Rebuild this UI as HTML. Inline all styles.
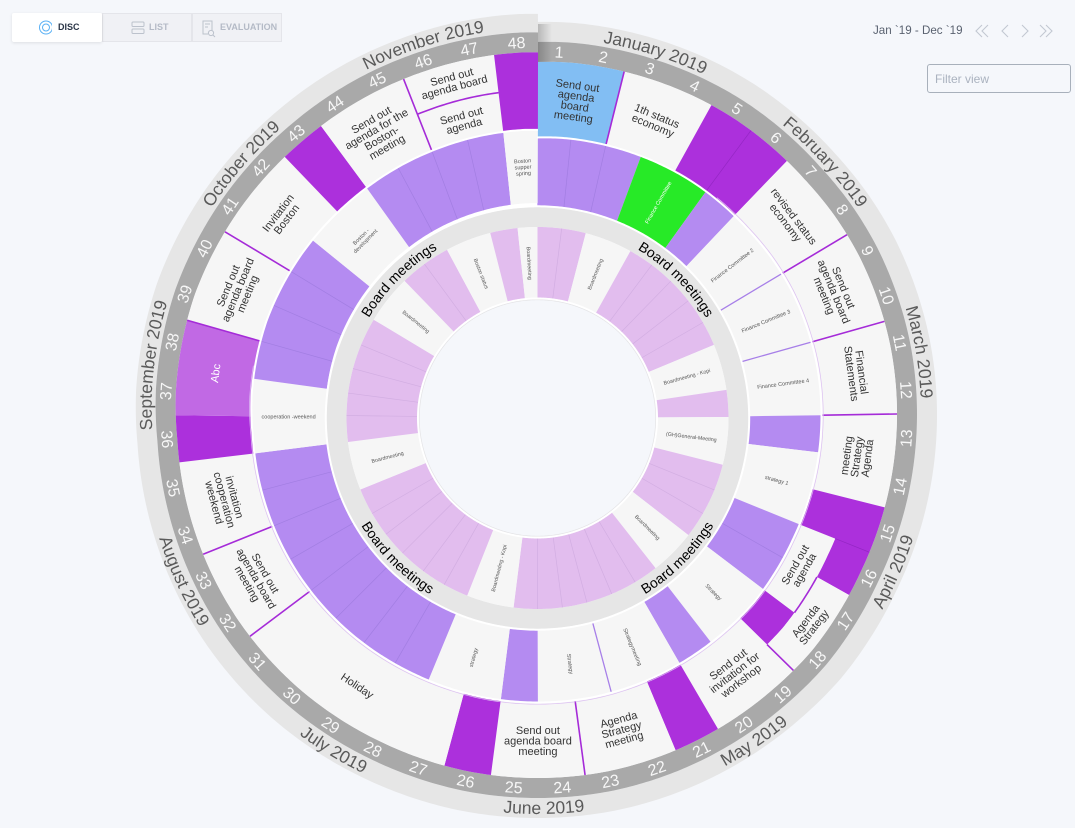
<!DOCTYPE html>
<html lang="en">
<head>
<meta charset="utf-8">
<title>Annual wheel disc</title>
<style>
html,body{margin:0;padding:0;background:#f5f7fb;width:1075px;height:828px;overflow:hidden;font-family:"Liberation Sans",sans-serif}
#disc{position:absolute;left:0;top:0}
svg text{font-family:"Liberation Sans",sans-serif}
.tab{position:absolute;top:13px;height:29px;width:90px;box-sizing:border-box;background:#f0f1f5;border:1px solid #e4e5ea;font-size:9px;font-weight:bold;color:#b4bac6;line-height:27px;white-space:nowrap}
.tab span{position:absolute;top:0}
.tab svg{position:absolute;top:0;left:0}
#tab-disc{left:12px;background:#fff;border:none;color:#2a3547;line-height:29px;border-radius:2px;box-shadow:0 1px 3px rgba(0,0,0,.1);z-index:2}
#range{position:absolute;left:873px;top:24px;font-size:11.6px;color:#5a6270;white-space:nowrap}
#filter{position:absolute;left:927px;top:64px;width:144px;height:29px;box-sizing:border-box;border:1px solid #a8b0bb;border-radius:3px;background:transparent;padding:0 7px;font:12px "Liberation Sans",sans-serif;color:#444;outline:none}
#filter::placeholder{color:#aab2bf;opacity:1}
#nav{position:absolute;left:970px;top:20px}
</style>
</head>
<body>
<svg id="disc" width="1075" height="828" viewBox="0 0 1075 828" xmlns="http://www.w3.org/2000/svg">
  <defs id="defs">
    <linearGradient id="seam" x1="0" x2="1" y1="0" y2="0">
      <stop offset="0" stop-color="#000" stop-opacity=".2"/>
      <stop offset="1" stop-color="#000" stop-opacity="0"/>
    </linearGradient>
  </defs>
</svg>

<div class="tab" id="tab-disc">
  <svg width="40" height="29"><circle cx="34" cy="14.5" r="6.5" fill="none" stroke="#5ab1f5" stroke-width="1"/><circle cx="34" cy="14.5" r="3.5" fill="none" stroke="#5ab1f5" stroke-width="1"/></svg>
  <span style="left:46px">DISC</span>
</div>
<div class="tab" style="left:102px">
  <svg width="44" height="27"><rect x="29" y="8" width="12" height="4.5" rx="1" fill="none" stroke="#bcc2cc"/><rect x="29" y="15" width="12" height="4.5" rx="1" fill="none" stroke="#bcc2cc"/></svg>
  <span style="left:46px">LIST</span>
</div>
<div class="tab" style="left:192px;width:90px">
  <svg width="26" height="27"><path d="M19 17V7H10V20H15" fill="none" stroke="#bcc2cc"/><path d="M12 10H17M12 13H15" stroke="#bcc2cc"/><circle cx="18" cy="19" r="2.6" fill="none" stroke="#bcc2cc"/><path d="M20 21L22 23" stroke="#bcc2cc"/></svg>
  <span style="left:27px">EVALUATION</span>
</div>

<div id="range">Jan `19 - Dec `19</div>
<svg id="nav" width="90" height="22">
  <g fill="none" stroke="#c3c8d2" stroke-width="1.1">
    <path d="M12 5L6 11L12 17M18 5L12 11L18 17"/>
    <path d="M38 5L32 11L38 17"/>
    <path d="M52 5L58 11L52 17"/>
    <path d="M70 5L76 11L70 17M76 5L82 11L76 17"/>
  </g>
</svg>
<input id="filter" placeholder="Filter view">

<script>
// ---------- chart data (positions in calendar weeks, 48 per year) ----------
const monthNames = ['January 2019','February 2019','March 2019','April 2019','May 2019','June 2019','July 2019','August 2019','September 2019','October 2019','November 2019'];
const monthCentreWeeks = [2.4,6.53,10.77,15.16,19.51,23.87,28.19,32.67,36.96,41.33,45.61];
const weekLabels = ['1','2','3','4','5','6','7','8','9','10','11','12','13','14','15','16','17','18','19','20','21','22','23','24','25','26','27','28','29','30','31','32','33','34','35','36','37','38','39','40','41','42','43','44','45','46','47','48'];

const outerStart = [0,2,4,6,8,10,12,14,17,15,16,18,20,21,23,25,26,31,33,35,36,38,40,42,43,45,45,47];
const outerEnd   = [2,4,6,8,10,12,14,16,18,17,18,20,21,23,25,26,31,33,35,36,38,40,42,43,45,47,47,48];
const outerKind  = ['highlight','task','deadline','task','task','task','task','deadline','deadline','task','task','task','deadline','task','task','deadline','task','task','task','deadline','soft','task','task','deadline','task','task','task','deadline'];
const outerLane  = ['full','full','full','full','full','full','full','full','inner','inner','outer','full','full','full','full','full','full','full','full','full','full','full','full','full','full','inner','outer','full'];
const outerLabels = ['Send out|agenda|board|meeting','1th status|economy','','revised status|economy','Send out|agenda board|meeting','Financial|Statements','meeting|Strategy|Agenda','','','Send out|agenda','Agenda|Strategy','Send out|invitation for|workshop','','Agenda|Strategy|meeting','Send out|agenda board|meeting','','Holiday','Send out|agenda board|meeting','invitation|cooperation|weekend','','Abc','Send out|agenda board|meeting','Invitation|Boston','','Send out|agenda for the|Boston-|meeting','Send out|agenda','Send out|agenda board',''];
const outerLineWeeks = [2,8,10,12,23,31,33,38,40,45];
const outerDividerWeeks = [5];
const outerArcStart = [16,45];
const outerArcEnd = [17,47];

const middleStart = [0,3,5,6,8,10,12,13,15,17,19,20,22,24,25,27,35,37,41,43,47];
const middleEnd   = [3,5,6,8,10,12,13,15,17,19,20,22,24,25,27,35,37,41,43,47,48];
const middleKind  = ['session','active','session','task','task','task','session','task','session','task','session','task','task','session','task','session','task','session','task','session','task'];
const middleLabels = ['','Finance Committee','','Finance Committee 2','Finance Committee 3','Finance Committee 4','','strategy 1','','Strategy','','Strategymeeting','Strategy','','strategy','','cooperation -weekend','','Boston -|development','','Boston|supper|spring'];
const middleOrient = ['r','r','r','r','r','r','r','r','r','r','r','r','r','r','r','r','r','r','t','r','t'];
const middleDividers = [1,2,16,28,29,30,31,32,33,34,38,39,40,44,45,46];
const middleLineWeeks = [8,10,22];

const innerStart = [0,1.95,3.88,9,10.87,11.96,13.89,17.04,18.91,24.96,26.88,33.07,35.04,40.13,42.12,44.23,46.09,47.2];
const innerEnd   = [1.95,3.88,9,10.87,11.96,13.89,17.04,18.91,24.96,26.88,33.07,35.04,40.13,42.12,44.23,46.09,47.2,48];
const innerKind  = ['meeting','task','meeting','task','meeting','task','meeting','task','meeting','task','meeting','task','meeting','task','meeting','task','meeting','task'];
const innerLabels = ['','Boardmeeting','','Boardmeeting - Kopi','','(GH)General-Meeting','','Boardmeeting','','Boardmeeting - Kopi','','Boardmeeting','','Boardmeeting','','Boston status','','Boardmeeting'];
const innerDividers = [0.97,4.9,5.9,6.95,8,14.95,16,19.9,20.95,22,23,24,27.9,28.9,30,31,32,36.1,37,38,39,43.16];

const bandTitles = ['Board meetings','Board meetings','Board meetings','Board meetings'];
const bandCentreWeeks = [6,18,30,42];

// ---------- geometry ----------
const svg = document.getElementById('disc');
const NS = 'http://www.w3.org/2000/svg';
const CX = 537.5;
const R = {hole:120, innerOut:191, bandOut:211, midIn:212, midOut:283, lane:321, cellOut:358, weekOut:378, monthOut:398};
const kindFill = {task:'#f6f6f6', highlight:'#82bef3', deadline:'#ac30dc', soft:'#c169e4', session:'#b48bf1', active:'#27ea27', meeting:'#e2bdee'};

// The wheel in the source is not a perfect circle: this calibrates its drift around the rim.
const warpTable = [[0,-0.5,0],[5,-3,-1],[11,-6,-2],[19,-6,-3],[26,-5.5,-4],[34,-5,-5],[49,-4,-5.5],[56,-2,-5.5],[64,-1,-6],[79,0,-5.5],[90,0,-6],[109,0,-5.5],[116,0,-5],[124,1,-4],[131,2.5,-3.5],[139,2,-3],[146,1.5,-2],[154,1,-1],[169,1,0],[191,0,0],[206,-1.5,-1.5],[221,-2,-2],[236,-2,-3],[251,-1,-4],[266,0,-5],[274,-1.5,-4.5],[289,-2,-7],[304,0,-8.5],[319,2,-9],[334,2.5,-9.5],[341,4,-10],[357,3,-10],[360,0.5,-9.5]];
function warp(deg){
  for(let i=1;i<warpTable.length;i++){
    const a=warpTable[i-1], b=warpTable[i];
    if(deg<=b[0]){
      const f=(deg-a[0])/(b[0]-a[0]);
      return [a[1]+(b[1]-a[1])*f, a[2]+(b[2]-a[2])*f];
    }
  }
  return [0,0];
}
function warpScale(r){
  if(r<R.midIn) return 0;
  if(r<R.midOut) return 0.3+0.5*(r-R.midIn)/(R.midOut-R.midIn);
  if(r<R.cellOut) return 0.8+0.2*(r-R.midOut)/(R.cellOut-R.midOut);
  if(r<R.weekOut) return 1;
  return 1-0.15*(r-R.weekOut)/(R.monthOut-R.weekOut);
}
function rad(d){return d*Math.PI/180;}
function angle(week){return week*7.5;}
function P(deg, r){
  const t = Math.max(0, Math.min(1, (r-R.midIn)/(R.midOut-R.midIn)));
  const s = Math.sin(rad(deg));
  const grow = (deg<=180 ? 1.5 : 3)*s*s*t;
  const rr = r+grow;
  const cy = 418+2*t;
  const w = warp(deg), k = warpScale(r);
  return [CX+rr*s+w[0]*k, cy-rr*Math.cos(rad(deg))+w[1]*k];
}
function arcPoints(a, b, r){
  const n = Math.max(2, Math.ceil(Math.abs(b-a)/0.5));
  const pts = [];
  for(let i=0;i<=n;i++){
    const p = P(a+(b-a)*i/n, r);
    pts.push(p[0].toFixed(2)+' '+p[1].toFixed(2));
  }
  return pts;
}
function wedgePath(a, b, r0, r1){
  const out = arcPoints(a,b,r1);
  const inn = arcPoints(b,a,r0);
  return 'M'+out.join('L')+'L'+inn.join('L')+'Z';
}
function arcPath(a, b, r){return 'M'+arcPoints(a,b,r).join('L');}
function radialPath(a, r0, r1){
  const p=P(a,r0), q=P(a,r1);
  return 'M'+p[0].toFixed(2)+' '+p[1].toFixed(2)+'L'+q[0].toFixed(2)+' '+q[1].toFixed(2);
}
function shape(d, fill, stroke, sw){
  const el = document.createElementNS(NS,'path');
  el.setAttribute('d', d);
  el.setAttribute('fill', fill);
  if(stroke){el.setAttribute('stroke', stroke);el.setAttribute('stroke-width', sw);}
  svg.appendChild(el);
  return el;
}
function multiline(lines, x, y, rot, size, lh, color){
  const t = document.createElementNS(NS,'text');
  t.setAttribute('transform','translate('+x.toFixed(2)+' '+y.toFixed(2)+') rotate('+rot.toFixed(2)+')');
  t.setAttribute('text-anchor','middle');
  t.setAttribute('font-size', size);
  t.setAttribute('fill', color);
  const top = -(lines.length-1)*lh/2 + size*0.35;
  lines.forEach(function(line,i){
    const s = document.createElementNS(NS,'tspan');
    s.setAttribute('x','0');
    s.setAttribute('y',(top+i*lh).toFixed(2));
    s.textContent = line;
    t.appendChild(s);
  });
  svg.appendChild(t);
  return t;
}
function tangentRot(deg){return (deg>90 && deg<270) ? deg-180 : deg;}
function radialRot(deg){return deg<=180 ? deg-90 : deg-270;}
function curvedText(txt, centre, spread, rTop, rBottom, size, color, id){
  const flip = centre>90 && centre<270;
  const d = flip ? arcPath(centre+spread, centre-spread, rBottom) : arcPath(centre-spread, centre+spread, rTop);
  const p = document.createElementNS(NS,'path');
  p.setAttribute('id', id);
  p.setAttribute('d', d);
  document.getElementById('defs').appendChild(p);
  const t = document.createElementNS(NS,'text');
  t.setAttribute('font-size', size);
  t.setAttribute('fill', color);
  t.setAttribute('text-anchor','middle');
  const tp = document.createElementNS(NS,'textPath');
  tp.setAttribute('href','#'+id);
  tp.setAttribute('startOffset','50%');
  tp.textContent = txt;
  t.appendChild(tp);
  svg.appendChild(t);
  return t;
}

// ---------- rings ----------
const monthRing = shape(wedgePath(0,360,R.weekOut,R.monthOut),'#e6e6e6');


const weekRing = shape(wedgePath(0,360,R.cellOut,R.weekOut),'#a9a9a9');


const underlay = shape(wedgePath(0,360,R.innerOut,R.midOut),'#ffffff');



// ---------- outer ring events ----------
outerStart.forEach(function(w,i){
  const a = angle(w), b = angle(outerEnd[i]);
  const lane = outerLane[i];
  const r0 = lane==='outer' ? R.lane : R.midOut;
  const r1 = lane==='inner' ? R.lane : R.cellOut;
  const el = shape(wedgePath(a,b,r0,r1), kindFill[outerKind[i]]);
  
  
});
outerDividerWeeks.forEach(function(w){
  const el = shape(radialPath(angle(w),R.midOut,R.cellOut),'none','#9426c4',0.7);
  
  
});
const upperDivider = shape(radialPath(angle(15),R.lane,R.cellOut),'none','#9426c4',0.7);


outerLineWeeks.forEach(function(w){
  const el = shape(radialPath(angle(w),R.midOut,R.cellOut),'none','#a52bd8',1.6);
  
  
});
outerArcStart.forEach(function(w,i){
  const el = shape(arcPath(angle(w),angle(outerArcEnd[i]),R.lane),'none','#a52bd8',1.6);
  
  
});
const laneEdge = shape(radialPath(angle(18),R.lane,R.cellOut),'none','#a52bd8',1.6);



// ---------- middle ring ----------
middleStart.forEach(function(w,i){
  const el = shape(wedgePath(angle(w),angle(middleEnd[i]),R.midIn,R.midOut), kindFill[middleKind[i]]);
  
  
});
middleDividers.forEach(function(w){
  const el = shape(radialPath(angle(w),R.midIn,R.midOut),'none','#a27ee2',0.7);
  
  
});
middleLineWeeks.forEach(function(w){
  const el = shape(radialPath(angle(w),R.midIn,R.midOut),'none','#a77fe8',1.3);
  
  
});

// ---------- inner ring ----------
const band = shape(wedgePath(0,360,R.innerOut,R.bandOut),'#e6e6e6');


innerStart.forEach(function(w,i){
  const el = shape(wedgePath(angle(w),angle(innerEnd[i]),R.hole,R.innerOut), kindFill[innerKind[i]]);
  
  
});
innerDividers.forEach(function(w){
  const el = shape(radialPath(angle(w),R.hole,R.innerOut),'none','#d2aee2',0.7);
  
  
});

// ---------- separators ----------
const sepOuter = shape(arcPath(0,360,R.midOut-0.5),'none','#ffffff',2);


const sepLilac = shape(arcPath(40,280,R.midOut+1.2),'none','#dcbff2',0.7);


const sepBand = shape(arcPath(0,360,R.midIn-0.3),'none','#ffffff',2);


const sepHole = shape(arcPath(0,360,R.hole-0.5),'none','#ffffff',2);


const sepHole2 = shape(arcPath(0,360,R.hole-1.8),'none','#e4e4e6',0.7);



// seam shadow where the year wraps
const seam = document.createElementNS(NS,'rect');
seam.setAttribute('x','538');
seam.setAttribute('y','24');
seam.setAttribute('width','14');
seam.setAttribute('height','38');
seam.setAttribute('fill','url(#seam)');


svg.appendChild(seam);

// ---------- labels ----------
outerLabels.forEach(function(txt,i){
  if(!txt) return;
  const mid = (angle(outerStart[i])+angle(outerEnd[i]))/2;
  const lane = outerLane[i];
  const r = lane==='inner' ? 301 : lane==='outer' ? 340 : 320.5;
  const p = P(mid,r);
  const color = outerKind[i]==='soft' ? '#ffffff' : '#333333';
  const t = multiline(txt.split('|'),p[0],p[1],tangentRot(mid),11,10.5,color);
  
  
});
middleLabels.forEach(function(txt,i){
  if(!txt) return;
  const mid = (angle(middleStart[i])+angle(middleEnd[i]))/2;
  const p = P(mid,247);
  const rot = middleOrient[i]==='t' ? tangentRot(mid) : radialRot(mid);
  const color = middleKind[i]==='active' ? '#ffffff' : '#555555';
  const t = multiline(txt.split('|'),p[0],p[1],rot,5.5,6.2,color);
  
  
});
innerLabels.forEach(function(txt,i){
  if(!txt) return;
  const mid = (angle(innerStart[i])+angle(innerEnd[i]))/2;
  const p = P(mid,155);
  const t = multiline(txt.split('|'),p[0],p[1],radialRot(mid),5.3,6,'#555555');
  
  
});
weekLabels.forEach(function(txt,i){
  const mid = angle(i+0.5);
  const p = P(mid,368);
  const t = multiline([txt],p[0],p[1],tangentRot(mid),16,16,'#f7f7f7');
  
  
});
monthNames.forEach(function(txt,i){
  const t = curvedText(txt,angle(monthCentreWeeks[i]),26,382,394,17.5,'#5a5a5a','month-path-'+i);
  
  
});
bandTitles.forEach(function(txt,i){
  const t = curvedText(txt,angle(bandCentreWeeks[i]),30,196,206.5,14,'#000000','band-path-'+i);
  
  
});
</script>
</body>
</html>
